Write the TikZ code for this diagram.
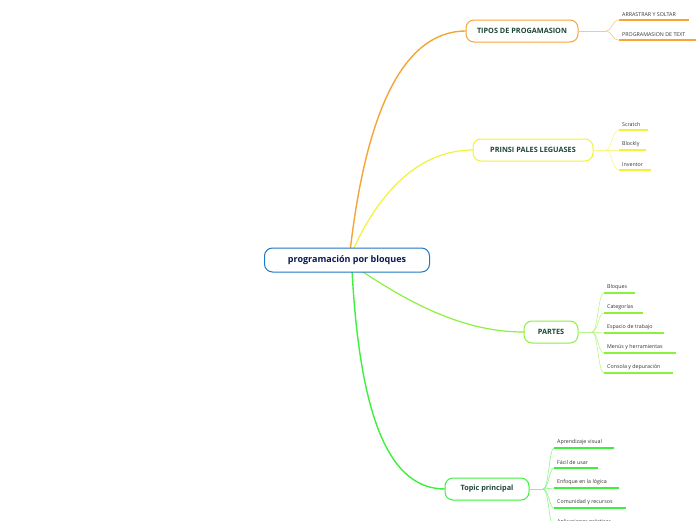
\documentclass[tikz,border=0pt]{standalone}
\usepackage{fontspec}
\setmainfont{Open Sans}
\definecolor{cor}{HTML}{F7A335}
\definecolor{cye}{HTML}{F2F23A}
\definecolor{clg}{HTML}{8CF03C}
\definecolor{cgr}{HTML}{3CF03C}
\definecolor{ctx}{HTML}{1E4636}
\definecolor{cbl}{HTML}{1E78C8}
\begin{document}
\begin{tikzpicture}[x=1pt,y=-1pt,
 topic/.style={draw,rounded corners=8pt,line width=1pt,fill=white,text=ctx,font=\bfseries\fontsize{7.3}{8}\selectfont,minimum height=22pt,inner xsep=0pt},
 leaf/.style={anchor=south west,inner sep=1pt,font=\fontsize{5.3}{6}\selectfont,text=black!80},
 ]
\useasboundingbox (0,0) rectangle (696,520);
% main connectors
\draw[cor,line width=1.4pt] (350,252) .. controls (365,120) and (400,31) .. (466,31);
\draw[cye,line width=1.2pt] (352,252) .. controls (380,190) and (420,150) .. (473,150);
\draw[clg,line width=1.2pt] (360,270) .. controls (420,310) and (470,332) .. (524,332);
\draw[cgr,line width=1.4pt] (352,270) .. controls (360,420) and (390,489) .. (445,489);
\node[draw=cbl,rounded corners=8pt,line width=1pt,fill=white,text=ctx!60!blue!60!black,font=\bfseries\fontsize{9}{10}\selectfont,minimum width=165pt,minimum height=24pt] (root) at (347,260) {programación por bloques};
\node[topic,draw=cor,minimum width=112pt] (t1) at (522,31) {TIPOS DE PROGAMASION};
\node[topic,draw=cye,minimum width=120pt] (t2) at (533,150) {PRINSI PALES LEGUASES};
\node[topic,draw=clg,minimum width=54pt] (t3) at (551,332) {PARTES};
\node[topic,draw=cgr,minimum width=84pt] (t4) at (487,489) {Topic principal};
% TIPOS leaves
\coordinate (j1) at (606,31);
\draw[cor!60,line width=1pt] (t1.east) -- (j1);
\foreach \y/\e/\t [count=\i] in {20/689/ARRASTRAR Y SOLTAR,40/696/PROGRAMASION DE TEXT}{
 \coordinate (a\i) at (619,\y); \coordinate (b\i) at (\e,\y);
 \draw[cor!60,line width=.6pt] (j1) .. controls (612,31) and (612,\y) .. (a\i);
 \draw[cor,line width=1.4pt] (a\i) -- (b\i);
 \node[leaf] (l1\i) at (621,\y-2) {\t};}
% PRINSIPALES leaves
\coordinate (j2) at (606,150);
\draw[cye!60,line width=1pt] (t2.east) -- (j2);
\foreach \y/\e/\t [count=\i] in {130/648/Scratch,150/646/Blockly,170/651/Inventor}{
 \coordinate (a\i) at (619,\y); \coordinate (b\i) at (\e,\y);
 \draw[cye!60,line width=.6pt] (j2) .. controls (612,150) and (612,\y) .. (a\i);
 \draw[cye,line width=1.4pt] (a\i) -- (b\i);
 \node[leaf] (l2\i) at (621,\y-2) {\t};}
% PARTES leaves
\coordinate (j3) at (592,332);
\draw[clg!60,line width=1pt] (t3.east) -- (j3);
\foreach \y/\e/\t [count=\i] in {293/635/Bloques,313/643/Categorías,333/664/Espacio de trabajo,353/676/Menús y herramientas,373/673/Consola y depuración}{
 \coordinate (a\i) at (604,\y); \coordinate (b\i) at (\e,\y);
 \draw[clg!60,line width=.6pt] (j3) .. controls (598,332) and (598,\y) .. (a\i);
 \draw[clg,line width=1.4pt] (a\i) -- (b\i);
 \node[leaf] (l3\i) at (606,\y-2) {\t};}
% Topic leaves
\coordinate (j4) at (543,489);
\draw[cgr!60,line width=1pt] (t4.east) -- (j4);
\foreach \y/\e/\t [count=\i] in {448/614/Aprendizaje visual,468/598/Fácil de usar,488/619/Enfoque en la lógica,508/626/Comunidad y recursos,528/622/Aplicaciones prácticas}{
 \coordinate (a\i) at (554,\y); \coordinate (b\i) at (\e,\y);
 \draw[cgr!60,line width=.6pt] (j4) .. controls (549,489) and (549,\y) .. (a\i);
 \draw[cgr,line width=1.4pt] (a\i) -- (b\i);
 \node[leaf] (l4\i) at (556,\y-2) {\t};}
\end{tikzpicture}
\end{document}
